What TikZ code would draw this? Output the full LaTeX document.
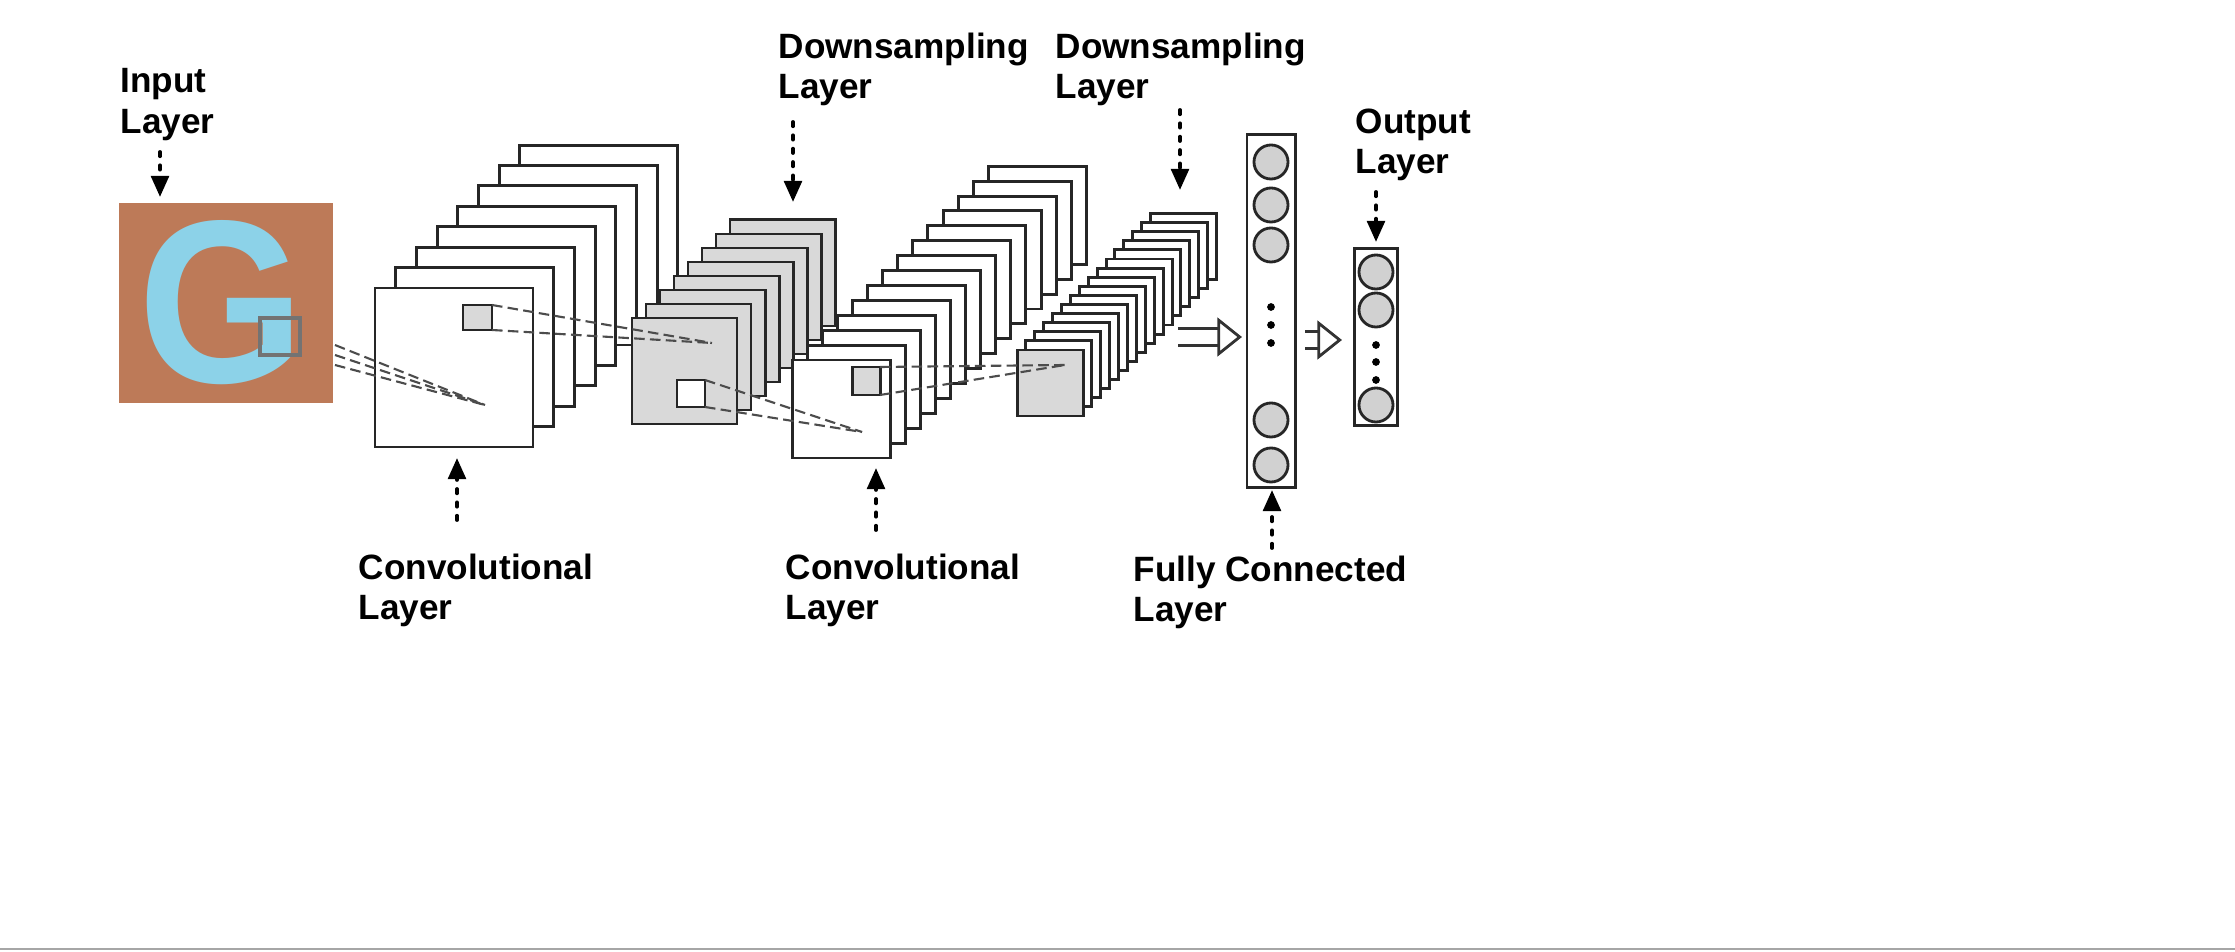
\documentclass[tikz,border=0pt]{standalone}
\usepackage{fontspec}
\setmainfont{Liberation Sans}
\usetikzlibrary{arrows.meta}
\tikzset{
 fmap/.style={draw=black!85,line width=0.85pt},
 lbl/.style={font=\bfseries\fontsize{10}{11.5}\selectfont,align=left,anchor=north west,inner sep=0pt},
 dotarr/.style={line width=1.1pt,dash pattern=on 1.2pt off 2.6pt,line cap=round,-{Triangle[width=5pt,length=6pt,sep=0pt]}},
 rf/.style={draw=black!70,line width=0.6pt,dashed,dash pattern=on 3pt off 1.5pt},
 neuron/.style={circle,draw=black!85,fill=black!18,line width=0.8pt,minimum size=0.34cm,inner sep=0pt},
 hollow/.style={draw=black!80,line width=0.8pt,-{Triangle[open,width=11pt,length=7pt]},double distance=4pt}
}
\begin{document}
\begin{tikzpicture}[x=0.01cm,y=-0.01cm]
\useasboundingbox (0,0) rectangle (2235,952);
\fill[white] (0,0) rectangle (2235,952);
\draw[black!35,line width=0.6pt] (0,949) -- (2235,949);
% input
\fill[fill={rgb,255:red,189;green,122;blue,88}] (119,203) rectangle (333,403);
\node[text={rgb,255:red,140;green,210;blue,232},font=\bfseries\fontsize{66}{66}\selectfont,inner sep=0pt,xscale=0.92] (G) at (222,303) {G};
\draw[draw=black!55,line width=1pt] (260,318) rectangle (300,355);
% conv1 stack
\foreach \i in {7,...,0}{\draw[fmap,fill=white] ({375+20.7*\i},{288-20.4*\i}) rectangle ++(158,159);}
\draw[fmap,fill=black!15] (463,305) rectangle (492,330);
\coordinate (c1p) at (485,405);
\draw[rf] (335,345) -- (c1p); \draw[rf] (335,365) -- (c1p); \draw[rf] (335,355) -- (c1p);
% ds1 stack
\foreach \i in {7,...,0}{\draw[fmap,fill=black!15] ({632+14*\i},{318-14*\i}) rectangle ++(105,106);}
\draw[fmap,fill=white] (677,380) rectangle (705,407);
\coordinate (d1p) at (712,343);
\draw[rf] (492,305) -- (d1p); \draw[rf] (492,330) -- (d1p);
% conv2 stack
\foreach \i in {13,...,0}{\draw[fmap,fill=white] ({792+15.1*\i},{360-14.9*\i}) rectangle ++(98,98);}
\draw[fmap,fill=black!15] (852,367) rectangle (880,395);
\coordinate (c2p) at (862,432);
\draw[rf] (705,380) -- (c2p); \draw[rf] (705,407) -- (c2p);
% ds2 stack
\foreach \i in {15,...,0}{\draw[fmap,fill=white] ({1017+8.9*\i},{350-9.1*\i}) rectangle ++(66,66);}
\draw[fmap,fill=black!15] (1017,350) rectangle ++(66,66);
\coordinate (d2p) at (1065,365);
\draw[rf] (880,367) -- (d2p); \draw[rf] (880,395) -- (d2p);
% FC
\node[draw=black!85,line width=0.85pt,minimum width=0.48cm,minimum height=3.52cm,inner sep=0pt] (fc) at (1271,311) {};
\foreach \y/\n in {162/a,205/b,245/c,420/d,465/e}{\node[neuron] (f\n) at (1271,\y) {};}
\foreach \y in {307,325,343}{\fill (1271,\y) circle (1.1pt);}
% output
\node[draw=black!85,line width=0.85pt,minimum width=0.43cm,minimum height=1.77cm,inner sep=0pt] (out) at (1376,337) {};
\foreach \y/\n in {272/a,310/b,405/c}{\node[neuron] (o\n) at (1376,\y) {};}
\foreach \y in {345,362,380}{\fill (1376,\y) circle (1.1pt);}
% hollow arrows
\coordinate (h1a) at (1178,337); \coordinate (h1b) at (1242,337);
\coordinate (h2a) at (1305,340); \coordinate (h2b) at (1342,340);
\draw[hollow] (h1a) -- (h1b);
\draw[hollow] (h2a) -- (h2b);
% labels
\node[lbl] (Lin) at (120,68) {Input\\Layer};
\node[lbl] (Lds1) at (778,32) {Downsampling\\Layer};
\node[lbl] (Lds2) at (1055,32) {Downsampling\\Layer};
\node[lbl] (Lout) at (1355,108) {Output\\Layer};
\node[lbl] (Lc1) at (358,553) {Convolutional\\Layer};
\node[lbl] (Lc2) at (785,553) {Convolutional\\Layer};
\node[lbl] (Lfc) at (1133,555) {Fully Connected\\Layer};
% dotted arrows
\coordinate (a1) at (160,152); \coordinate (a1e) at (160,197);
\coordinate (a2) at (793,122); \coordinate (a2e) at (793,202);
\coordinate (a3) at (1180,110); \coordinate (a3e) at (1180,190);
\coordinate (a4) at (1376,192); \coordinate (a4e) at (1376,242);
\coordinate (a5) at (457,520); \coordinate (a5e) at (457,458);
\coordinate (a6) at (876,530); \coordinate (a6e) at (876,468);
\coordinate (a7) at (1272,548); \coordinate (a7e) at (1272,490);
\foreach \s in {1,...,7}{\draw[dotarr] (a\s) -- (a\s e);}
\end{tikzpicture}
\end{document}
